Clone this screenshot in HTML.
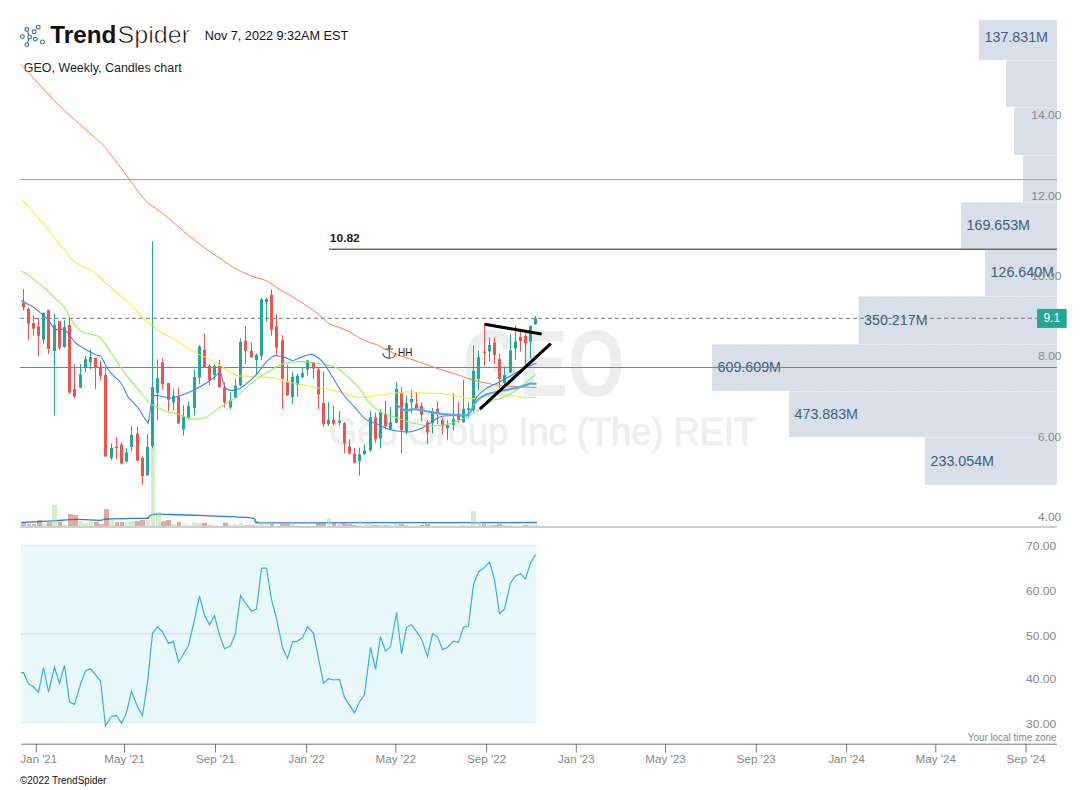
<!DOCTYPE html><html><head><meta charset="utf-8"><style>html,body{margin:0;padding:0;background:#fff;width:1087px;height:790px;overflow:hidden}svg{display:block}text{font-family:"Liberation Sans",sans-serif}</style></head><body>
<svg width="1087" height="790" viewBox="0 0 1087 790">
<g fill="none" stroke="#3b6a9b" stroke-width="1.1">
<polyline points="26.8,29.5 29.6,37.1 26.8,44.6"/>
<circle cx="22.4" cy="36.6" r="1.9" fill="#fff"/>
<circle cx="26.8" cy="29.5" r="1.9" fill="#fff"/>
<circle cx="29.6" cy="37.1" r="1.9" fill="#fff"/>
<circle cx="26.8" cy="44.6" r="1.9" fill="#fff"/>
<circle cx="34.1" cy="31.8" r="1.9" fill="#fff"/>
<circle cx="38.3" cy="27.2" r="1.9" fill="#fff"/>
<circle cx="35.3" cy="39.1" r="1.9" fill="#fff"/>
<circle cx="42.4" cy="41.9" r="1.9" fill="#fff"/>
</g>
<text x="50.3" y="42.7" font-size="23" font-weight="bold" fill="#111" textLength="66" lengthAdjust="spacingAndGlyphs">Trend</text>
<text x="117.6" y="42.8" font-size="24" fill="#000" stroke="#fff" stroke-width="0.65" textLength="72.5" lengthAdjust="spacingAndGlyphs">Spider</text>
<text x="204.8" y="40" font-size="12.5" fill="#111" textLength="143.4" lengthAdjust="spacingAndGlyphs">Nov 7, 2022 9:32AM EST</text>
<text x="23.8" y="71.6" font-size="12" fill="#222" textLength="158" lengthAdjust="spacingAndGlyphs">GEO, Weekly, Candles chart</text>
<text x="463" y="395.8" font-size="95" font-weight="bold" fill="#edefee" textLength="161.5" lengthAdjust="spacingAndGlyphs">GEO</text>
<text x="329" y="444.8" font-size="38.4" fill="#edefee" stroke="#edefee" stroke-width="0.9" textLength="427" lengthAdjust="spacingAndGlyphs">Geo Group Inc (The) REIT</text>
<rect x="979" y="20.0" width="78.0" height="40.0" fill="#d9dfe8"/>
<rect x="1006" y="60.0" width="51.0" height="47.0" fill="#d9dfe8"/>
<rect x="1014" y="107.0" width="43.0" height="48.0" fill="#d9dfe8"/>
<rect x="1023" y="155.0" width="34.0" height="47.0" fill="#d9dfe8"/>
<rect x="961" y="202.0" width="96.0" height="47.0" fill="#d9dfe8"/>
<rect x="985" y="249.0" width="72.0" height="47.0" fill="#d9dfe8"/>
<rect x="858.6" y="296.0" width="198.4" height="48.0" fill="#d9dfe8"/>
<rect x="712" y="344.0" width="345.0" height="47.0" fill="#d9dfe8"/>
<rect x="789" y="391.0" width="268.0" height="46.0" fill="#d9dfe8"/>
<rect x="925" y="437.0" width="132.0" height="47.7" fill="#d9dfe8"/>
<line x1="1006" y1="60.5" x2="1057" y2="60.5" stroke="#f1f2f4" stroke-width="1" stroke-dasharray="2,1"/>
<line x1="1014" y1="107.5" x2="1057" y2="107.5" stroke="#f1f2f4" stroke-width="1" stroke-dasharray="2,1"/>
<line x1="1023" y1="155.5" x2="1057" y2="155.5" stroke="#f1f2f4" stroke-width="1" stroke-dasharray="2,1"/>
<line x1="961" y1="202.5" x2="1057" y2="202.5" stroke="#f1f2f4" stroke-width="1" stroke-dasharray="2,1"/>
<line x1="985" y1="249.5" x2="1057" y2="249.5" stroke="#f1f2f4" stroke-width="1" stroke-dasharray="2,1"/>
<line x1="858.6" y1="296.5" x2="1057" y2="296.5" stroke="#f1f2f4" stroke-width="1" stroke-dasharray="2,1"/>
<line x1="712" y1="344.5" x2="1057" y2="344.5" stroke="#f1f2f4" stroke-width="1" stroke-dasharray="2,1"/>
<line x1="789" y1="391.5" x2="1057" y2="391.5" stroke="#f1f2f4" stroke-width="1" stroke-dasharray="2,1"/>
<line x1="925" y1="437.5" x2="1057" y2="437.5" stroke="#f1f2f4" stroke-width="1" stroke-dasharray="2,1"/>
<text x="984.5" y="41.5" font-size="14" fill="#3d5d8a" textLength="63.5" lengthAdjust="spacingAndGlyphs">137.831M</text>
<text x="966.5" y="230.3" font-size="14" fill="#3d5d8a" textLength="63.5" lengthAdjust="spacingAndGlyphs">169.653M</text>
<text x="990.5" y="277.3" font-size="14" fill="#3d5d8a" textLength="63.5" lengthAdjust="spacingAndGlyphs">126.640M</text>
<text x="864.1" y="324.8" font-size="14" fill="#3d5d8a" textLength="63.5" lengthAdjust="spacingAndGlyphs">350.217M</text>
<text x="717.5" y="372.3" font-size="14" fill="#3d5d8a" textLength="63.5" lengthAdjust="spacingAndGlyphs">609.609M</text>
<text x="794.5" y="418.8" font-size="14" fill="#3d5d8a" textLength="63.5" lengthAdjust="spacingAndGlyphs">473.883M</text>
<text x="930.5" y="465.7" font-size="14" fill="#3d5d8a" textLength="63.5" lengthAdjust="spacingAndGlyphs">233.054M</text>
<line x1="20" y1="179.5" x2="1057" y2="179.5" stroke="#a6a6a6" stroke-width="1"/>
<line x1="329" y1="249.2" x2="1057" y2="249.2" stroke="#6e6e6e" stroke-width="1.6"/>
<text x="329.8" y="242.2" font-size="11.3" font-weight="bold" fill="#222" textLength="30" lengthAdjust="spacingAndGlyphs">10.82</text>
<line x1="20" y1="318.3" x2="1037" y2="318.3" stroke="#777" stroke-width="1" stroke-dasharray="4,3"/>
<line x1="20" y1="367.5" x2="1057" y2="367.5" stroke="#c04be6" stroke-width="1"/>
<path d="M21.20,522.50 C26.28,522.23 42.32,521.42 51.70,520.90 C61.08,520.38 69.45,519.50 77.50,519.40 C85.55,519.30 94.92,520.37 100.00,520.30 C105.08,520.23 100.50,519.33 108.00,519.00 C115.50,518.67 138.38,518.45 145.00,518.30 C151.62,518.15 146.42,518.73 147.70,518.10 C148.98,517.47 148.85,515.10 152.70,514.50 C156.55,513.90 162.20,514.30 170.80,514.50 C179.40,514.70 190.98,515.13 204.30,515.70 C217.62,516.27 241.90,516.82 250.70,517.90 C259.50,518.98 251.38,521.38 257.10,522.20 C262.82,523.02 238.35,522.75 285.00,522.80 C331.65,522.85 495.00,522.55 537.00,522.50" fill="none" stroke="#2f7fe0" stroke-width="1.3"/>
<rect x="21.0" y="523.2" width="5" height="3.5" fill="#b84233" fill-opacity="0.45"/>
<rect x="27.0" y="524.1" width="4" height="2.6" fill="#b84233" fill-opacity="0.45"/>
<rect x="32.0" y="524.1" width="4" height="2.6" fill="#b84233" fill-opacity="0.45"/>
<rect x="37.0" y="520.0" width="5" height="6.7" fill="#b84233" fill-opacity="0.45"/>
<rect x="42.0" y="523.2" width="5" height="3.5" fill="#9fdb83" fill-opacity="0.45"/>
<rect x="47.0" y="522.2" width="5" height="4.5" fill="#b84233" fill-opacity="0.45"/>
<rect x="52.0" y="505.1" width="5" height="21.6" fill="#9fdb83" fill-opacity="0.45"/>
<rect x="58.0" y="522.0" width="4" height="4.7" fill="#b84233" fill-opacity="0.45"/>
<rect x="63.0" y="524.1" width="4" height="2.6" fill="#9fdb83" fill-opacity="0.45"/>
<rect x="68.0" y="514.1" width="5" height="12.6" fill="#b84233" fill-opacity="0.45"/>
<rect x="73.0" y="515.1" width="5" height="11.6" fill="#b84233" fill-opacity="0.45"/>
<rect x="78.0" y="521.2" width="5" height="5.5" fill="#9fdb83" fill-opacity="0.45"/>
<rect x="83.0" y="523.2" width="5" height="3.5" fill="#9fdb83" fill-opacity="0.45"/>
<rect x="89.0" y="519.4" width="4" height="7.3" fill="#9fdb83" fill-opacity="0.45"/>
<rect x="94.0" y="522.0" width="5" height="4.7" fill="#b84233" fill-opacity="0.45"/>
<rect x="99.0" y="524.1" width="5" height="2.6" fill="#b84233" fill-opacity="0.45"/>
<rect x="104.0" y="509.1" width="5" height="17.6" fill="#b84233" fill-opacity="0.45"/>
<rect x="109.0" y="519.9" width="5" height="6.8" fill="#9fdb83" fill-opacity="0.45"/>
<rect x="115.0" y="522.0" width="4" height="4.7" fill="#b84233" fill-opacity="0.45"/>
<rect x="120.0" y="522.0" width="4" height="4.7" fill="#b84233" fill-opacity="0.45"/>
<rect x="125.0" y="522.0" width="5" height="4.7" fill="#9fdb83" fill-opacity="0.45"/>
<rect x="130.0" y="521.0" width="5" height="5.7" fill="#9fdb83" fill-opacity="0.45"/>
<rect x="135.0" y="521.0" width="5" height="5.7" fill="#b84233" fill-opacity="0.45"/>
<rect x="140.0" y="519.9" width="5" height="6.8" fill="#b84233" fill-opacity="0.45"/>
<rect x="146.0" y="520.0" width="4" height="6.7" fill="#9fdb83" fill-opacity="0.45"/>
<rect x="151.0" y="444.2" width="4" height="82.5" fill="#9fdb83" fill-opacity="0.45"/>
<rect x="156.0" y="511.9" width="5" height="14.8" fill="#9fdb83" fill-opacity="0.45"/>
<rect x="161.0" y="521.3" width="5" height="5.4" fill="#b84233" fill-opacity="0.45"/>
<rect x="166.0" y="520.0" width="5" height="6.7" fill="#b84233" fill-opacity="0.45"/>
<rect x="171.0" y="524.1" width="5" height="2.6" fill="#9fdb83" fill-opacity="0.45"/>
<rect x="177.0" y="521.9" width="4" height="4.8" fill="#b84233" fill-opacity="0.45"/>
<rect x="182.0" y="524.1" width="4" height="2.6" fill="#9fdb83" fill-opacity="0.45"/>
<rect x="187.0" y="525.2" width="5" height="1.5" fill="#9fdb83" fill-opacity="0.45"/>
<rect x="192.0" y="522.2" width="5" height="4.5" fill="#9fdb83" fill-opacity="0.45"/>
<rect x="197.0" y="522.8" width="5" height="3.9" fill="#9fdb83" fill-opacity="0.45"/>
<rect x="202.0" y="522.8" width="5" height="3.9" fill="#b84233" fill-opacity="0.45"/>
<rect x="208.0" y="525.2" width="4" height="1.5" fill="#b84233" fill-opacity="0.45"/>
<rect x="213.0" y="525.2" width="5" height="1.5" fill="#9fdb83" fill-opacity="0.45"/>
<rect x="218.0" y="526.0" width="5" height="0.7" fill="#b84233" fill-opacity="0.45"/>
<rect x="223.0" y="522.8" width="5" height="3.9" fill="#b84233" fill-opacity="0.45"/>
<rect x="228.0" y="525.2" width="5" height="1.5" fill="#9fdb83" fill-opacity="0.45"/>
<rect x="233.0" y="524.1" width="5" height="2.6" fill="#9fdb83" fill-opacity="0.45"/>
<rect x="239.0" y="522.8" width="4" height="3.9" fill="#9fdb83" fill-opacity="0.45"/>
<rect x="244.0" y="525.2" width="5" height="1.5" fill="#b84233" fill-opacity="0.45"/>
<rect x="249.0" y="525.2" width="5" height="1.5" fill="#b84233" fill-opacity="0.45"/>
<rect x="254.0" y="525.2" width="5" height="1.5" fill="#9fdb83" fill-opacity="0.45"/>
<rect x="259.0" y="521.3" width="5" height="5.4" fill="#9fdb83" fill-opacity="0.45"/>
<rect x="265.0" y="523.5" width="4" height="3.2" fill="#9fdb83" fill-opacity="0.45"/>
<rect x="270.0" y="523.9" width="4" height="2.8" fill="#b84233" fill-opacity="0.45"/>
<rect x="275.0" y="526.0" width="5" height="0.7" fill="#b84233" fill-opacity="0.45"/>
<rect x="280.0" y="523.8" width="5" height="2.9" fill="#b84233" fill-opacity="0.45"/>
<rect x="285.0" y="523.8" width="5" height="2.9" fill="#b84233" fill-opacity="0.45"/>
<rect x="290.0" y="522.9" width="5" height="3.8" fill="#9fdb83" fill-opacity="0.45"/>
<rect x="296.0" y="525.0" width="4" height="1.7" fill="#9fdb83" fill-opacity="0.45"/>
<rect x="301.0" y="526.0" width="4" height="0.7" fill="#9fdb83" fill-opacity="0.45"/>
<rect x="306.0" y="525.0" width="5" height="1.7" fill="#9fdb83" fill-opacity="0.45"/>
<rect x="311.0" y="526.0" width="5" height="0.7" fill="#b84233" fill-opacity="0.45"/>
<rect x="316.0" y="523.2" width="5" height="3.5" fill="#b84233" fill-opacity="0.45"/>
<rect x="321.0" y="523.2" width="5" height="3.5" fill="#b84233" fill-opacity="0.45"/>
<rect x="327.0" y="518.1" width="4" height="8.6" fill="#9fdb83" fill-opacity="0.45"/>
<rect x="332.0" y="523.2" width="4" height="3.5" fill="#b84233" fill-opacity="0.45"/>
<rect x="337.0" y="523.8" width="5" height="2.9" fill="#9fdb83" fill-opacity="0.45"/>
<rect x="342.0" y="523.2" width="5" height="3.5" fill="#b84233" fill-opacity="0.45"/>
<rect x="347.0" y="524.1" width="5" height="2.6" fill="#b84233" fill-opacity="0.45"/>
<rect x="352.0" y="525.0" width="5" height="1.7" fill="#b84233" fill-opacity="0.45"/>
<rect x="358.0" y="521.2" width="4" height="5.5" fill="#9fdb83" fill-opacity="0.45"/>
<rect x="363.0" y="524.1" width="5" height="2.6" fill="#9fdb83" fill-opacity="0.45"/>
<rect x="368.0" y="523.2" width="5" height="3.5" fill="#9fdb83" fill-opacity="0.45"/>
<rect x="373.0" y="525.0" width="5" height="1.7" fill="#b84233" fill-opacity="0.45"/>
<rect x="378.0" y="525.0" width="5" height="1.7" fill="#9fdb83" fill-opacity="0.45"/>
<rect x="384.0" y="525.0" width="4" height="1.7" fill="#b84233" fill-opacity="0.45"/>
<rect x="389.0" y="525.0" width="4" height="1.7" fill="#9fdb83" fill-opacity="0.45"/>
<rect x="394.0" y="523.2" width="5" height="3.5" fill="#9fdb83" fill-opacity="0.45"/>
<rect x="399.0" y="524.1" width="5" height="2.6" fill="#b84233" fill-opacity="0.45"/>
<rect x="404.0" y="525.0" width="5" height="1.7" fill="#9fdb83" fill-opacity="0.45"/>
<rect x="409.0" y="526.0" width="5" height="0.7" fill="#9fdb83" fill-opacity="0.45"/>
<rect x="415.0" y="526.0" width="4" height="0.7" fill="#b84233" fill-opacity="0.45"/>
<rect x="420.0" y="525.0" width="4" height="1.7" fill="#b84233" fill-opacity="0.45"/>
<rect x="425.0" y="523.8" width="5" height="2.9" fill="#b84233" fill-opacity="0.45"/>
<rect x="430.0" y="526.0" width="5" height="0.7" fill="#9fdb83" fill-opacity="0.45"/>
<rect x="435.0" y="526.0" width="5" height="0.7" fill="#b84233" fill-opacity="0.45"/>
<rect x="440.0" y="526.0" width="5" height="0.7" fill="#b84233" fill-opacity="0.45"/>
<rect x="446.0" y="526.0" width="4" height="0.7" fill="#9fdb83" fill-opacity="0.45"/>
<rect x="451.0" y="526.0" width="4" height="0.7" fill="#9fdb83" fill-opacity="0.45"/>
<rect x="456.0" y="526.0" width="5" height="0.7" fill="#b84233" fill-opacity="0.45"/>
<rect x="461.0" y="524.8" width="5" height="1.9" fill="#9fdb83" fill-opacity="0.45"/>
<rect x="466.0" y="526.0" width="5" height="0.7" fill="#9fdb83" fill-opacity="0.45"/>
<rect x="471.0" y="510.9" width="5" height="15.8" fill="#9fdb83" fill-opacity="0.45"/>
<rect x="477.0" y="522.0" width="4" height="4.7" fill="#9fdb83" fill-opacity="0.45"/>
<rect x="482.0" y="523.8" width="4" height="2.9" fill="#b84233" fill-opacity="0.45"/>
<rect x="487.0" y="525.0" width="5" height="1.7" fill="#9fdb83" fill-opacity="0.45"/>
<rect x="492.0" y="525.0" width="5" height="1.7" fill="#b84233" fill-opacity="0.45"/>
<rect x="497.0" y="523.8" width="5" height="2.9" fill="#b84233" fill-opacity="0.45"/>
<rect x="502.0" y="525.0" width="5" height="1.7" fill="#9fdb83" fill-opacity="0.45"/>
<rect x="508.0" y="525.0" width="4" height="1.7" fill="#9fdb83" fill-opacity="0.45"/>
<rect x="513.0" y="526.0" width="5" height="0.7" fill="#9fdb83" fill-opacity="0.45"/>
<rect x="518.0" y="526.0" width="5" height="0.7" fill="#b84233" fill-opacity="0.45"/>
<rect x="523.0" y="525.0" width="5" height="1.7" fill="#b84233" fill-opacity="0.45"/>
<rect x="528.0" y="525.0" width="5" height="1.7" fill="#9fdb83" fill-opacity="0.45"/>
<rect x="534.0" y="525.0" width="4" height="1.7" fill="#9fdb83" fill-opacity="0.45"/>
<rect x="20" y="526" width="1037" height="2" fill="#cfcfcf"/>
<rect x="23.0" y="289.2" width="1" height="21.3" fill="#ef5350"/>
<rect x="22.0" y="302.4" width="3" height="5.0" fill="#ef5350"/>
<rect x="28.0" y="307.4" width="1" height="33.0" fill="#ef5350"/>
<rect x="27.0" y="308.9" width="3" height="14.7" fill="#ef5350"/>
<rect x="33.0" y="315.5" width="1" height="20.3" fill="#ef5350"/>
<rect x="32.0" y="323.0" width="3" height="5.7" fill="#ef5350"/>
<rect x="38.0" y="317.6" width="1" height="38.4" fill="#ef5350"/>
<rect x="37.0" y="326.3" width="3" height="9.5" fill="#ef5350"/>
<rect x="43.0" y="312.5" width="1" height="30.8" fill="#26a69a"/>
<rect x="42.0" y="312.9" width="3" height="26.9" fill="#26a69a"/>
<rect x="48.0" y="309.5" width="1" height="44.5" fill="#ef5350"/>
<rect x="47.0" y="310.1" width="3" height="38.9" fill="#ef5350"/>
<rect x="54.0" y="313.5" width="1" height="101.8" fill="#26a69a"/>
<rect x="53.0" y="325.1" width="3" height="25.9" fill="#26a69a"/>
<rect x="59.0" y="321.0" width="1" height="29.0" fill="#ef5350"/>
<rect x="58.0" y="321.0" width="3" height="26.9" fill="#ef5350"/>
<rect x="64.0" y="320.2" width="1" height="27.7" fill="#26a69a"/>
<rect x="63.0" y="327.1" width="3" height="19.8" fill="#26a69a"/>
<rect x="69.0" y="317.6" width="1" height="76.3" fill="#ef5350"/>
<rect x="68.0" y="325.1" width="3" height="67.4" fill="#ef5350"/>
<rect x="74.0" y="364.1" width="1" height="34.4" fill="#ef5350"/>
<rect x="73.0" y="389.0" width="3" height="7.5" fill="#ef5350"/>
<rect x="80.0" y="364.1" width="1" height="24.3" fill="#26a69a"/>
<rect x="79.0" y="374.3" width="3" height="13.1" fill="#26a69a"/>
<rect x="85.0" y="356.0" width="1" height="16.2" fill="#26a69a"/>
<rect x="84.0" y="359.1" width="3" height="9.1" fill="#26a69a"/>
<rect x="90.0" y="349.4" width="1" height="19.8" fill="#26a69a"/>
<rect x="89.0" y="357.0" width="3" height="5.1" fill="#26a69a"/>
<rect x="95.0" y="358.1" width="1" height="31.3" fill="#ef5350"/>
<rect x="94.0" y="358.1" width="3" height="9.1" fill="#ef5350"/>
<rect x="100.0" y="360.7" width="1" height="19.6" fill="#ef5350"/>
<rect x="99.0" y="367.2" width="3" height="8.5" fill="#ef5350"/>
<rect x="105.0" y="367.4" width="1" height="89.1" fill="#ef5350"/>
<rect x="104.0" y="375.0" width="3" height="81.5" fill="#ef5350"/>
<rect x="111.0" y="443.4" width="1" height="16.6" fill="#26a69a"/>
<rect x="110.0" y="447.8" width="3" height="10.2" fill="#26a69a"/>
<rect x="116.0" y="437.3" width="1" height="21.8" fill="#ef5350"/>
<rect x="115.0" y="446.8" width="3" height="1.2" fill="#ef5350"/>
<rect x="121.0" y="442.3" width="1" height="22.3" fill="#ef5350"/>
<rect x="120.0" y="444.4" width="3" height="19.2" fill="#ef5350"/>
<rect x="126.0" y="448.4" width="1" height="14.2" fill="#26a69a"/>
<rect x="125.0" y="452.5" width="3" height="9.1" fill="#26a69a"/>
<rect x="131.0" y="426.2" width="1" height="25.3" fill="#26a69a"/>
<rect x="130.0" y="434.9" width="3" height="12.1" fill="#26a69a"/>
<rect x="137.0" y="426.8" width="1" height="34.4" fill="#ef5350"/>
<rect x="136.0" y="433.6" width="3" height="27.0" fill="#ef5350"/>
<rect x="142.0" y="456.5" width="1" height="28.4" fill="#ef5350"/>
<rect x="141.0" y="457.9" width="3" height="18.3" fill="#ef5350"/>
<rect x="147.0" y="434.3" width="1" height="41.4" fill="#26a69a"/>
<rect x="146.0" y="447.0" width="3" height="28.3" fill="#26a69a"/>
<rect x="152.0" y="241.0" width="1" height="207.3" fill="#26a69a"/>
<rect x="151.0" y="387.0" width="3" height="58.8" fill="#26a69a"/>
<rect x="157.0" y="359.4" width="1" height="60.6" fill="#26a69a"/>
<rect x="156.0" y="378.2" width="3" height="14.6" fill="#26a69a"/>
<rect x="162.0" y="358.3" width="1" height="31.4" fill="#ef5350"/>
<rect x="161.0" y="362.4" width="3" height="21.9" fill="#ef5350"/>
<rect x="168.0" y="383.0" width="1" height="28.0" fill="#ef5350"/>
<rect x="167.0" y="383.0" width="3" height="16.8" fill="#ef5350"/>
<rect x="173.0" y="388.7" width="1" height="21.3" fill="#26a69a"/>
<rect x="172.0" y="395.8" width="3" height="6.7" fill="#26a69a"/>
<rect x="178.0" y="387.7" width="1" height="36.4" fill="#ef5350"/>
<rect x="177.0" y="396.8" width="3" height="26.7" fill="#ef5350"/>
<rect x="183.0" y="405.4" width="1" height="30.1" fill="#26a69a"/>
<rect x="182.0" y="416.5" width="3" height="13.0" fill="#26a69a"/>
<rect x="188.0" y="401.5" width="1" height="18.2" fill="#26a69a"/>
<rect x="187.0" y="405.9" width="3" height="11.8" fill="#26a69a"/>
<rect x="194.0" y="369.0" width="1" height="46.2" fill="#26a69a"/>
<rect x="193.0" y="376.8" width="3" height="31.2" fill="#26a69a"/>
<rect x="199.0" y="345.2" width="1" height="39.1" fill="#26a69a"/>
<rect x="198.0" y="346.4" width="3" height="31.2" fill="#26a69a"/>
<rect x="204.0" y="333.6" width="1" height="34.4" fill="#ef5350"/>
<rect x="203.0" y="349.8" width="3" height="17.6" fill="#ef5350"/>
<rect x="209.0" y="364.6" width="1" height="20.7" fill="#ef5350"/>
<rect x="208.0" y="366.0" width="3" height="14.2" fill="#ef5350"/>
<rect x="214.0" y="364.0" width="1" height="16.2" fill="#26a69a"/>
<rect x="213.0" y="366.0" width="3" height="9.1" fill="#26a69a"/>
<rect x="219.0" y="359.6" width="1" height="27.7" fill="#ef5350"/>
<rect x="218.0" y="366.0" width="3" height="21.3" fill="#ef5350"/>
<rect x="224.0" y="382.2" width="1" height="25.3" fill="#ef5350"/>
<rect x="223.0" y="387.3" width="3" height="15.2" fill="#ef5350"/>
<rect x="230.0" y="392.3" width="1" height="16.8" fill="#26a69a"/>
<rect x="229.0" y="399.8" width="3" height="7.7" fill="#26a69a"/>
<rect x="235.0" y="379.2" width="1" height="19.2" fill="#26a69a"/>
<rect x="234.0" y="385.7" width="3" height="12.1" fill="#26a69a"/>
<rect x="240.0" y="338.3" width="1" height="48.0" fill="#26a69a"/>
<rect x="239.0" y="341.7" width="3" height="43.6" fill="#26a69a"/>
<rect x="245.0" y="326.6" width="1" height="37.4" fill="#ef5350"/>
<rect x="244.0" y="340.7" width="3" height="10.2" fill="#ef5350"/>
<rect x="251.0" y="342.8" width="1" height="15.2" fill="#ef5350"/>
<rect x="250.0" y="350.9" width="3" height="6.4" fill="#ef5350"/>
<rect x="256.0" y="353.3" width="1" height="21.8" fill="#26a69a"/>
<rect x="255.0" y="354.9" width="3" height="5.1" fill="#26a69a"/>
<rect x="261.0" y="297.8" width="1" height="62.2" fill="#26a69a"/>
<rect x="260.0" y="299.2" width="3" height="56.7" fill="#26a69a"/>
<rect x="266.0" y="297.8" width="1" height="23.7" fill="#26a69a"/>
<rect x="265.0" y="299.2" width="3" height="2.7" fill="#26a69a"/>
<rect x="271.0" y="289.1" width="1" height="46.6" fill="#ef5350"/>
<rect x="270.0" y="294.6" width="3" height="35.0" fill="#ef5350"/>
<rect x="276.0" y="314.4" width="1" height="40.5" fill="#ef5350"/>
<rect x="275.0" y="326.2" width="3" height="21.6" fill="#ef5350"/>
<rect x="282.0" y="335.2" width="1" height="73.8" fill="#ef5350"/>
<rect x="281.0" y="340.2" width="3" height="38.5" fill="#ef5350"/>
<rect x="287.0" y="364.5" width="1" height="31.4" fill="#ef5350"/>
<rect x="286.0" y="381.7" width="3" height="13.6" fill="#ef5350"/>
<rect x="292.0" y="371.6" width="1" height="32.4" fill="#26a69a"/>
<rect x="291.0" y="376.7" width="3" height="20.2" fill="#26a69a"/>
<rect x="297.0" y="373.6" width="1" height="23.3" fill="#26a69a"/>
<rect x="296.0" y="375.7" width="3" height="9.1" fill="#26a69a"/>
<rect x="302.0" y="366.6" width="1" height="11.7" fill="#26a69a"/>
<rect x="301.0" y="373.0" width="3" height="4.1" fill="#26a69a"/>
<rect x="307.0" y="359.5" width="1" height="16.2" fill="#26a69a"/>
<rect x="306.0" y="360.5" width="3" height="9.1" fill="#26a69a"/>
<rect x="313.0" y="361.5" width="1" height="17.2" fill="#ef5350"/>
<rect x="312.0" y="362.5" width="3" height="6.1" fill="#ef5350"/>
<rect x="318.0" y="367.6" width="1" height="41.4" fill="#ef5350"/>
<rect x="317.0" y="369.6" width="3" height="24.9" fill="#ef5350"/>
<rect x="323.0" y="371.6" width="1" height="55.3" fill="#ef5350"/>
<rect x="322.0" y="403.0" width="3" height="21.3" fill="#ef5350"/>
<rect x="328.0" y="402.0" width="1" height="23.7" fill="#26a69a"/>
<rect x="327.0" y="419.6" width="3" height="4.7" fill="#26a69a"/>
<rect x="333.0" y="405.4" width="1" height="19.9" fill="#ef5350"/>
<rect x="332.0" y="419.6" width="3" height="4.0" fill="#ef5350"/>
<rect x="339.0" y="411.1" width="1" height="14.2" fill="#26a69a"/>
<rect x="338.0" y="420.8" width="3" height="2.0" fill="#26a69a"/>
<rect x="344.0" y="422.2" width="1" height="31.0" fill="#ef5350"/>
<rect x="343.0" y="423.2" width="3" height="20.3" fill="#ef5350"/>
<rect x="349.0" y="439.4" width="1" height="15.2" fill="#ef5350"/>
<rect x="348.0" y="446.5" width="3" height="7.1" fill="#ef5350"/>
<rect x="354.0" y="447.9" width="1" height="15.4" fill="#ef5350"/>
<rect x="353.0" y="453.6" width="3" height="9.1" fill="#ef5350"/>
<rect x="359.0" y="447.5" width="1" height="28.0" fill="#26a69a"/>
<rect x="358.0" y="454.6" width="3" height="6.7" fill="#26a69a"/>
<rect x="364.0" y="444.5" width="1" height="10.7" fill="#26a69a"/>
<rect x="363.0" y="450.6" width="3" height="3.4" fill="#26a69a"/>
<rect x="370.0" y="411.1" width="1" height="40.5" fill="#26a69a"/>
<rect x="369.0" y="417.2" width="3" height="33.4" fill="#26a69a"/>
<rect x="375.0" y="412.7" width="1" height="29.8" fill="#ef5350"/>
<rect x="374.0" y="417.2" width="3" height="22.2" fill="#ef5350"/>
<rect x="380.0" y="409.0" width="1" height="39.5" fill="#26a69a"/>
<rect x="379.0" y="412.1" width="3" height="26.3" fill="#26a69a"/>
<rect x="385.0" y="400.6" width="1" height="28.3" fill="#ef5350"/>
<rect x="384.0" y="414.1" width="3" height="12.2" fill="#ef5350"/>
<rect x="390.0" y="407.0" width="1" height="23.3" fill="#26a69a"/>
<rect x="389.0" y="422.2" width="3" height="7.1" fill="#26a69a"/>
<rect x="396.0" y="382.3" width="1" height="40.9" fill="#26a69a"/>
<rect x="395.0" y="388.8" width="3" height="34.0" fill="#26a69a"/>
<rect x="401.0" y="387.2" width="1" height="66.0" fill="#ef5350"/>
<rect x="400.0" y="393.3" width="3" height="37.0" fill="#ef5350"/>
<rect x="406.0" y="395.3" width="1" height="39.1" fill="#26a69a"/>
<rect x="405.0" y="403.0" width="3" height="29.3" fill="#26a69a"/>
<rect x="411.0" y="389.8" width="1" height="23.7" fill="#26a69a"/>
<rect x="410.0" y="398.9" width="3" height="3.1" fill="#26a69a"/>
<rect x="416.0" y="392.9" width="1" height="16.1" fill="#ef5350"/>
<rect x="415.0" y="404.0" width="3" height="4.1" fill="#ef5350"/>
<rect x="421.0" y="402.6" width="1" height="18.6" fill="#ef5350"/>
<rect x="420.0" y="406.0" width="3" height="8.7" fill="#ef5350"/>
<rect x="427.0" y="420.2" width="1" height="23.7" fill="#ef5350"/>
<rect x="426.0" y="422.2" width="3" height="10.1" fill="#ef5350"/>
<rect x="432.0" y="408.0" width="1" height="25.4" fill="#26a69a"/>
<rect x="431.0" y="411.5" width="3" height="11.7" fill="#26a69a"/>
<rect x="437.0" y="401.4" width="1" height="22.9" fill="#ef5350"/>
<rect x="436.0" y="408.7" width="3" height="4.8" fill="#ef5350"/>
<rect x="442.0" y="417.6" width="1" height="16.8" fill="#ef5350"/>
<rect x="441.0" y="420.2" width="3" height="6.1" fill="#ef5350"/>
<rect x="447.0" y="420.2" width="1" height="20.2" fill="#26a69a"/>
<rect x="446.0" y="424.9" width="3" height="3.4" fill="#26a69a"/>
<rect x="453.0" y="393.3" width="1" height="37.0" fill="#26a69a"/>
<rect x="452.0" y="419.2" width="3" height="5.7" fill="#26a69a"/>
<rect x="458.0" y="402.2" width="1" height="20.4" fill="#ef5350"/>
<rect x="457.0" y="413.4" width="3" height="6.6" fill="#ef5350"/>
<rect x="463.0" y="379.7" width="1" height="43.1" fill="#26a69a"/>
<rect x="462.0" y="408.7" width="3" height="13.5" fill="#26a69a"/>
<rect x="468.0" y="402.2" width="1" height="16.2" fill="#26a69a"/>
<rect x="467.0" y="408.3" width="3" height="2.0" fill="#26a69a"/>
<rect x="473.0" y="345.5" width="1" height="66.8" fill="#26a69a"/>
<rect x="472.0" y="370.9" width="3" height="39.4" fill="#26a69a"/>
<rect x="478.0" y="350.6" width="1" height="39.5" fill="#26a69a"/>
<rect x="477.0" y="357.1" width="3" height="21.8" fill="#26a69a"/>
<rect x="484.0" y="323.3" width="1" height="42.5" fill="#ef5350"/>
<rect x="483.0" y="351.6" width="3" height="1.4" fill="#ef5350"/>
<rect x="489.0" y="337.4" width="1" height="24.3" fill="#26a69a"/>
<rect x="488.0" y="344.9" width="3" height="6.7" fill="#26a69a"/>
<rect x="494.0" y="337.4" width="1" height="26.4" fill="#ef5350"/>
<rect x="493.0" y="342.5" width="3" height="12.6" fill="#ef5350"/>
<rect x="499.0" y="353.6" width="1" height="34.5" fill="#ef5350"/>
<rect x="498.0" y="359.1" width="3" height="19.8" fill="#ef5350"/>
<rect x="504.0" y="366.8" width="1" height="18.2" fill="#26a69a"/>
<rect x="503.0" y="374.9" width="3" height="8.1" fill="#26a69a"/>
<rect x="510.0" y="334.4" width="1" height="38.5" fill="#26a69a"/>
<rect x="509.0" y="350.2" width="3" height="22.3" fill="#26a69a"/>
<rect x="515.0" y="325.3" width="1" height="35.0" fill="#26a69a"/>
<rect x="514.0" y="341.5" width="3" height="7.1" fill="#26a69a"/>
<rect x="520.0" y="331.7" width="1" height="19.9" fill="#ef5350"/>
<rect x="519.0" y="336.8" width="3" height="4.1" fill="#ef5350"/>
<rect x="525.0" y="333.4" width="1" height="31.4" fill="#ef5350"/>
<rect x="524.0" y="336.0" width="3" height="7.5" fill="#ef5350"/>
<rect x="530.0" y="325.3" width="1" height="33.4" fill="#26a69a"/>
<rect x="529.0" y="325.9" width="3" height="15.6" fill="#26a69a"/>
<rect x="535.0" y="316.2" width="1" height="8.5" fill="#26a69a"/>
<rect x="534.0" y="318.2" width="3" height="6.1" fill="#26a69a"/>
<path d="M20.70,64.10 C23.65,67.33 32.65,77.23 38.40,83.50 C44.15,89.77 49.15,95.63 55.20,101.70 C61.25,107.77 68.00,113.85 74.70,119.90 C81.40,125.95 90.22,133.25 95.40,138.00 C100.58,142.75 100.17,141.57 105.80,148.40 C111.43,155.23 124.00,172.07 129.20,179.00 C134.40,185.93 134.30,186.45 137.00,190.00 C139.70,193.55 143.23,197.88 145.40,200.30 C147.57,202.72 147.08,202.28 150.00,204.50 C152.92,206.72 158.60,210.27 162.90,213.60 C167.20,216.93 171.50,220.85 175.80,224.50 C180.10,228.15 183.32,231.18 188.70,235.50 C194.08,239.82 202.72,246.52 208.10,250.40 C213.48,254.28 216.70,255.90 221.00,258.80 C225.30,261.70 228.52,264.80 233.90,267.80 C239.28,270.80 247.92,274.65 253.30,276.80 C258.68,278.95 261.90,278.65 266.20,280.70 C270.50,282.75 275.97,287.15 279.10,289.10 C282.23,291.05 281.87,290.55 285.00,292.40 C288.13,294.25 293.60,297.50 297.90,300.20 C302.20,302.90 306.70,305.65 310.80,308.60 C314.90,311.55 319.27,315.32 322.50,317.90 C325.73,320.48 326.12,322.00 330.20,324.10 C334.28,326.20 341.62,327.92 347.00,330.50 C352.38,333.08 357.33,337.12 362.50,339.60 C367.67,342.08 372.62,343.03 378.00,345.40 C383.38,347.77 388.78,351.33 394.80,353.80 C400.82,356.27 409.07,358.48 414.10,360.20 C419.13,361.92 420.68,362.58 425.00,364.10 C429.32,365.62 434.67,367.57 440.00,369.30 C445.33,371.03 451.57,372.75 457.00,374.50 C462.43,376.25 466.73,378.17 472.60,379.80 C478.47,381.43 485.68,383.22 492.20,384.30 C498.72,385.38 504.32,385.75 511.70,386.30 C519.08,386.85 532.37,387.38 536.50,387.60" fill="none" stroke="#fd7c4a" stroke-width="1"/>
<path d="M21.20,199.70 C22.32,200.67 25.48,202.92 27.90,205.50 C30.32,208.08 32.90,211.97 35.70,215.20 C38.50,218.43 41.70,221.35 44.70,224.90 C47.70,228.45 51.12,233.07 53.70,236.50 C56.28,239.93 58.25,243.23 60.20,245.50 C62.15,247.77 63.47,247.73 65.40,250.10 C67.33,252.47 69.43,257.23 71.80,259.70 C74.17,262.17 76.37,263.17 79.60,264.90 C82.83,266.63 87.97,268.17 91.20,270.10 C94.43,272.03 95.13,273.07 99.00,276.50 C102.87,279.93 109.03,285.97 114.40,290.70 C119.77,295.43 126.45,300.28 131.20,304.90 C135.95,309.52 138.93,314.63 142.90,318.40 C146.87,322.17 152.53,325.57 155.00,327.50 C157.47,329.43 154.23,327.87 157.70,330.00 C161.17,332.13 169.77,336.65 175.80,340.30 C181.83,343.95 188.30,348.77 193.90,351.90 C199.50,355.03 204.67,356.62 209.40,359.10 C214.13,361.58 217.78,364.12 222.30,366.80 C226.82,369.48 231.33,373.58 236.50,375.20 C241.67,376.82 247.05,376.07 253.30,376.50 C259.55,376.93 268.72,377.00 274.00,377.80 C279.28,378.60 281.02,380.28 285.00,381.30 C288.98,382.32 292.52,382.82 297.90,383.90 C303.28,384.98 310.83,386.62 317.30,387.80 C323.77,388.98 331.32,389.82 336.70,391.00 C342.08,392.18 345.73,393.82 349.60,394.90 C353.47,395.98 355.60,397.35 359.90,397.50 C364.20,397.65 369.58,396.52 375.40,395.80 C381.22,395.08 389.42,393.88 394.80,393.20 C400.18,392.52 402.67,391.70 407.70,391.70 C412.73,391.70 419.62,392.90 425.00,393.20 C430.38,393.50 434.67,393.02 440.00,393.50 C445.33,393.98 451.35,395.23 457.00,396.10 C462.65,396.97 468.03,398.82 473.90,398.70 C479.77,398.58 485.68,395.95 492.20,395.40 C498.72,394.85 507.58,395.07 513.00,395.40 C518.42,395.73 520.78,397.18 524.70,397.40 C528.62,397.62 534.53,396.82 536.50,396.70" fill="none" stroke="#fbea30" stroke-width="1.05"/>
<path d="M21.20,271.10 C22.32,271.68 25.48,272.95 27.90,274.60 C30.32,276.25 33.12,278.95 35.70,281.00 C38.28,283.05 40.40,284.22 43.40,286.90 C46.40,289.58 50.25,293.78 53.70,297.10 C57.15,300.42 61.30,303.25 64.10,306.80 C66.90,310.35 67.70,314.35 70.50,318.40 C73.30,322.45 77.23,328.40 80.90,331.10 C84.57,333.80 89.28,333.48 92.50,334.60 C95.72,335.72 97.18,334.90 100.20,337.80 C103.22,340.70 107.15,347.05 110.60,352.00 C114.05,356.95 117.90,363.20 120.90,367.50 C123.90,371.80 125.37,373.72 128.60,377.80 C131.83,381.88 136.73,387.73 140.30,392.00 C143.87,396.27 147.10,400.82 150.00,403.40 C152.90,405.98 154.68,406.07 157.70,407.50 C160.72,408.93 164.65,410.92 168.10,412.00 C171.55,413.08 174.97,412.92 178.40,414.00 C181.83,415.08 185.90,417.65 188.70,418.50 C191.50,419.35 192.40,419.22 195.20,419.10 C198.00,418.98 201.83,419.42 205.50,417.80 C209.17,416.18 213.10,412.20 217.20,409.40 C221.30,406.60 226.88,402.93 230.10,401.00 C233.32,399.07 234.13,399.73 236.50,397.80 C238.87,395.87 241.50,392.08 244.30,389.40 C247.10,386.72 250.08,384.17 253.30,381.70 C256.52,379.23 259.93,376.97 263.60,374.60 C267.27,372.23 271.73,369.40 275.30,367.50 C278.87,365.60 281.67,364.17 285.00,363.20 C288.33,362.23 291.00,361.87 295.30,361.70 C299.60,361.53 306.07,361.73 310.80,362.20 C315.53,362.67 319.38,363.57 323.70,364.50 C328.02,365.43 332.38,365.43 336.70,367.80 C341.02,370.17 345.73,375.15 349.60,378.70 C353.47,382.25 356.88,385.43 359.90,389.10 C362.92,392.77 364.68,397.15 367.70,400.70 C370.72,404.25 373.92,407.82 378.00,410.40 C382.08,412.98 387.25,414.37 392.20,416.20 C397.15,418.03 402.23,419.85 407.70,421.40 C413.17,422.95 419.62,424.83 425.00,425.50 C430.38,426.17 435.33,425.85 440.00,425.40 C444.67,424.95 448.00,424.43 453.00,422.80 C458.00,421.17 465.65,417.77 470.00,415.60 C474.35,413.43 475.40,412.30 479.10,409.80 C482.80,407.30 488.72,402.45 492.20,400.60 C495.68,398.75 496.53,400.10 500.00,398.70 C503.47,397.30 508.88,394.70 513.00,392.20 C517.12,389.70 520.78,386.80 524.70,383.70 C528.62,380.60 534.53,375.28 536.50,373.60" fill="none" stroke="#8cf054" stroke-width="1.05"/>
<path d="M21.20,300.30 C22.32,300.95 25.82,303.02 27.90,304.20 C29.98,305.38 31.55,305.90 33.70,307.40 C35.85,308.90 38.32,311.05 40.80,313.20 C43.28,315.35 46.23,317.65 48.60,320.30 C50.97,322.95 52.42,327.58 55.00,329.10 C57.58,330.62 61.73,328.48 64.10,329.40 C66.47,330.32 67.27,332.33 69.20,334.60 C71.13,336.87 73.12,340.63 75.70,343.00 C78.28,345.37 81.47,346.87 84.70,348.80 C87.93,350.73 92.40,353.32 95.10,354.60 C97.80,355.88 99.18,354.78 100.90,356.50 C102.62,358.22 103.78,362.20 105.40,364.90 C107.02,367.60 108.02,369.68 110.60,372.70 C113.18,375.72 118.53,380.10 120.90,383.00 C123.27,385.90 123.68,387.92 124.80,390.10 C125.92,392.28 125.40,393.15 127.60,396.10 C129.80,399.05 135.40,404.43 138.00,407.80 C140.60,411.17 141.50,413.70 143.20,416.30 C144.90,418.90 147.37,422.22 148.20,423.40 C148.93,418.77 151.87,400.23 152.60,395.60 C153.45,395.60 155.12,395.23 157.70,395.60 C160.28,395.97 165.30,397.50 168.10,397.80 C170.90,398.10 170.63,398.48 174.50,397.40 C178.37,396.32 185.48,394.03 191.30,391.30 C197.12,388.57 204.55,384.28 209.40,381.00 C214.25,377.72 218.57,373.17 220.40,371.60 C221.27,374.35 223.13,385.02 225.60,388.10 C228.07,391.18 232.08,390.53 235.20,390.10 C238.32,389.67 240.85,387.98 244.30,385.50 C247.75,383.02 252.47,378.85 255.90,375.20 C259.33,371.55 262.10,366.72 264.90,363.60 C267.70,360.48 270.53,357.80 272.70,356.50 C274.87,355.20 275.85,355.65 277.90,355.80 C279.95,355.95 282.53,356.63 285.00,357.40 C287.47,358.17 290.12,360.40 292.70,360.40 C295.28,360.40 297.70,358.38 300.50,357.40 C303.30,356.42 307.13,354.82 309.50,354.50 C311.87,354.18 312.33,354.05 314.70,355.50 C317.07,356.95 320.68,359.53 323.70,363.20 C326.72,366.87 329.57,372.33 332.80,377.50 C336.03,382.67 339.45,389.25 343.10,394.20 C346.75,399.15 351.03,403.10 354.70,407.20 C358.37,411.30 361.65,416.12 365.10,418.80 C368.55,421.48 371.53,421.58 375.40,423.30 C379.27,425.02 384.63,427.82 388.30,429.10 C391.97,430.38 394.17,430.52 397.40,431.00 C400.63,431.48 404.70,432.10 407.70,432.00 C410.70,431.90 412.52,431.32 415.40,430.40 C418.28,429.48 420.90,428.75 425.00,426.50 C429.10,424.25 435.33,418.72 440.00,416.90 C444.67,415.08 448.22,416.03 453.00,415.60 C457.78,415.17 464.78,417.33 468.70,414.30 C472.62,411.27 473.68,401.63 476.50,397.40 C479.32,393.17 482.12,391.30 485.60,388.90 C489.08,386.50 493.05,385.28 497.40,383.00 C501.75,380.72 507.15,377.70 511.70,375.20 C516.25,372.70 520.57,370.00 524.70,368.00 C528.83,366.00 534.53,364.00 536.50,363.20" fill="none" stroke="#3585f5" stroke-width="1.05"/>
<path d="M396.30,404.60 C397.77,405.57 402.13,409.65 405.10,410.40 C408.07,411.15 410.78,409.00 414.10,409.10 C417.42,409.20 420.57,410.22 425.00,411.00 C429.43,411.78 434.93,413.13 440.70,413.80 C446.47,414.47 454.93,414.92 459.60,415.00 C464.27,415.08 466.10,416.37 468.70,414.30 C471.30,412.23 472.38,405.85 475.20,402.60 C478.02,399.35 481.68,396.65 485.60,394.80 C489.52,392.95 494.35,392.48 498.70,391.50 C503.05,390.52 507.37,389.88 511.70,388.90 C516.03,387.92 521.65,386.47 524.70,385.60 C527.75,384.73 528.03,384.02 530.00,383.70 C531.97,383.38 535.42,383.70 536.50,383.70" fill="none" stroke="#5aa8f0" stroke-width="2.2"/>
<line x1="484.8" y1="324.3" x2="541.6" y2="334" stroke="#000" stroke-width="3"/>
<line x1="479.8" y1="409.1" x2="550.8" y2="343.7" stroke="#000" stroke-width="3"/>
<g fill="none" stroke="#555" stroke-width="1.1">
<circle cx="389.3" cy="346.6" r="1"/>
<line x1="389.3" y1="347.6" x2="389.3" y2="358.3"/>
<line x1="385.5" y1="349" x2="393" y2="349"/>
<path d="M382.6,353 Q384,358.3 389.3,358.3 Q394.6,358.3 395.8,353"/>
</g>
<text x="398" y="355.7" font-size="10.5" fill="#222" textLength="14.3" lengthAdjust="spacingAndGlyphs">HH</text>
<text x="1031.3" y="119.2" font-size="11" fill="#888" textLength="30" lengthAdjust="spacingAndGlyphs">14.00</text>
<text x="1031.3" y="200.0" font-size="11" fill="#888" textLength="30" lengthAdjust="spacingAndGlyphs">12.00</text>
<text x="1031.3" y="280.0" font-size="11" fill="#888" textLength="30" lengthAdjust="spacingAndGlyphs">10.00</text>
<text x="1038.3" y="360.0" font-size="11" fill="#888" textLength="23" lengthAdjust="spacingAndGlyphs">8.00</text>
<text x="1038.1" y="441.1" font-size="11" fill="#888" textLength="23" lengthAdjust="spacingAndGlyphs">6.00</text>
<text x="1038.1" y="521.0" font-size="11" fill="#888" textLength="23" lengthAdjust="spacingAndGlyphs">4.00</text>
<rect x="1037.1" y="308.9" width="29.6" height="19" fill="#26a593"/>
<text x="1043.4" y="322.2" font-size="12.5" fill="#fff" textLength="16.7" lengthAdjust="spacingAndGlyphs">9.1</text>
<rect x="20.9" y="545" width="515.6" height="177.5" fill="#e9f9f9"/>
<line x1="20.9" y1="545.3" x2="536.5" y2="545.3" stroke="#dde7f5" stroke-width="1"/>
<line x1="20.9" y1="722.3" x2="536.5" y2="722.3" stroke="#dde7f5" stroke-width="1"/>
<line x1="20.9" y1="633.8" x2="536.5" y2="633.8" stroke="#d6daf2" stroke-width="1.3"/>
<polyline points="20.9,672.7 23.5,672.7 28.5,683.9 33.5,687.0 38.5,692.2 43.5,667.5 48.5,692.2 54.5,667.0 59.5,683.6 64.5,665.4 69.5,701.8 74.5,704.4 80.5,684.4 85.5,670.6 90.5,668.8 95.5,674.8 100.5,681.0 105.5,725.9 111.5,716.3 116.5,715.5 121.5,723.3 126.5,712.9 131.5,691.4 137.5,707.0 142.5,715.5 147.5,682.6 152.5,633.3 157.5,626.8 162.5,631.7 168.5,643.4 173.5,641.6 178.5,662.3 183.5,654.0 188.5,645.5 194.5,619.5 199.5,596.2 204.5,615.1 209.5,624.7 214.5,615.6 219.5,635.1 224.5,648.8 230.5,646.0 235.5,633.3 240.5,595.4 245.5,603.2 251.5,611.2 256.5,609.1 261.5,568.1 266.5,568.1 271.5,599.5 276.5,618.5 282.5,647.5 287.5,658.4 292.5,642.1 297.5,641.1 302.5,637.7 307.5,626.5 313.5,633.3 318.5,658.4 323.5,683.1 328.5,678.7 333.5,680.0 339.5,679.5 344.5,697.4 349.5,705.1 354.5,712.9 359.5,702.0 364.5,694.8 370.5,647.5 375.5,669.3 380.5,636.4 385.5,651.2 390.5,646.8 396.5,612.5 401.5,653.8 406.5,627.3 411.5,624.7 416.5,631.7 421.5,639.0 427.5,656.4 432.5,633.8 437.5,636.9 442.5,649.4 447.5,647.5 453.5,641.1 458.5,642.4 463.5,627.3 468.5,626.0 473.5,584.5 478.5,572.0 484.5,567.6 489.5,561.9 494.5,579.3 499.5,613.5 504.5,609.1 510.5,583.2 515.5,575.9 520.5,573.6 525.5,578.8 530.5,563.0 535.5,554.6" fill="none" stroke="#35b1e8" stroke-width="1.2"/>
<text x="1026" y="550.1" font-size="11" fill="#888" textLength="30.3" lengthAdjust="spacingAndGlyphs">70.00</text>
<text x="1026" y="595.3" font-size="11" fill="#888" textLength="30.3" lengthAdjust="spacingAndGlyphs">60.00</text>
<text x="1026" y="639.6" font-size="11" fill="#888" textLength="30.3" lengthAdjust="spacingAndGlyphs">50.00</text>
<text x="1026" y="683.3" font-size="11" fill="#888" textLength="30.3" lengthAdjust="spacingAndGlyphs">40.00</text>
<text x="1026" y="728.2" font-size="11" fill="#888" textLength="30.3" lengthAdjust="spacingAndGlyphs">30.00</text>
<text x="967.7" y="740.8" font-size="10" fill="#888" textLength="88.7" lengthAdjust="spacingAndGlyphs">Your local time zone</text>
<rect x="21" y="743.7" width="1036" height="1" fill="#777"/>
<rect x="35.8" y="744" width="1" height="8.5" fill="#777"/>
<text x="20.6" y="763" font-size="11" fill="#888" textLength="36.4" lengthAdjust="spacingAndGlyphs">Jan &#39;21</text>
<rect x="124.0" y="744" width="1" height="8.5" fill="#777"/>
<text x="104.2" y="763" font-size="11" fill="#888" textLength="40.5" lengthAdjust="spacingAndGlyphs">May &#39;21</text>
<rect x="215.0" y="744" width="1" height="8.5" fill="#777"/>
<text x="196.0" y="763" font-size="11" fill="#888" textLength="39" lengthAdjust="spacingAndGlyphs">Sep &#39;21</text>
<rect x="306.2" y="744" width="1" height="8.5" fill="#777"/>
<text x="288.5" y="763" font-size="11" fill="#888" textLength="36.4" lengthAdjust="spacingAndGlyphs">Jan &#39;22</text>
<rect x="395.4" y="744" width="1" height="8.5" fill="#777"/>
<text x="375.6" y="763" font-size="11" fill="#888" textLength="40.5" lengthAdjust="spacingAndGlyphs">May &#39;22</text>
<rect x="486.1" y="744" width="1" height="8.5" fill="#777"/>
<text x="467.1" y="763" font-size="11" fill="#888" textLength="39" lengthAdjust="spacingAndGlyphs">Sep &#39;22</text>
<rect x="575.8" y="744" width="1" height="8.5" fill="#777"/>
<text x="558.1" y="763" font-size="11" fill="#888" textLength="36.4" lengthAdjust="spacingAndGlyphs">Jan &#39;23</text>
<rect x="665.0" y="744" width="1" height="8.5" fill="#777"/>
<text x="645.2" y="763" font-size="11" fill="#888" textLength="40.5" lengthAdjust="spacingAndGlyphs">May &#39;23</text>
<rect x="755.8" y="744" width="1" height="8.5" fill="#777"/>
<text x="736.8" y="763" font-size="11" fill="#888" textLength="39" lengthAdjust="spacingAndGlyphs">Sep &#39;23</text>
<rect x="846.1" y="744" width="1" height="8.5" fill="#777"/>
<text x="828.4" y="763" font-size="11" fill="#888" textLength="36.4" lengthAdjust="spacingAndGlyphs">Jan &#39;24</text>
<rect x="935.3" y="744" width="1" height="8.5" fill="#777"/>
<text x="915.5" y="763" font-size="11" fill="#888" textLength="40.5" lengthAdjust="spacingAndGlyphs">May &#39;24</text>
<rect x="1025.5" y="744" width="1" height="8.5" fill="#777"/>
<text x="1006.5" y="763" font-size="11" fill="#888" textLength="39" lengthAdjust="spacingAndGlyphs">Sep &#39;24</text>
<text x="20" y="784" font-size="10" fill="#111" textLength="86.4" lengthAdjust="spacingAndGlyphs">©2022 TrendSpider</text>
</svg></body></html>
